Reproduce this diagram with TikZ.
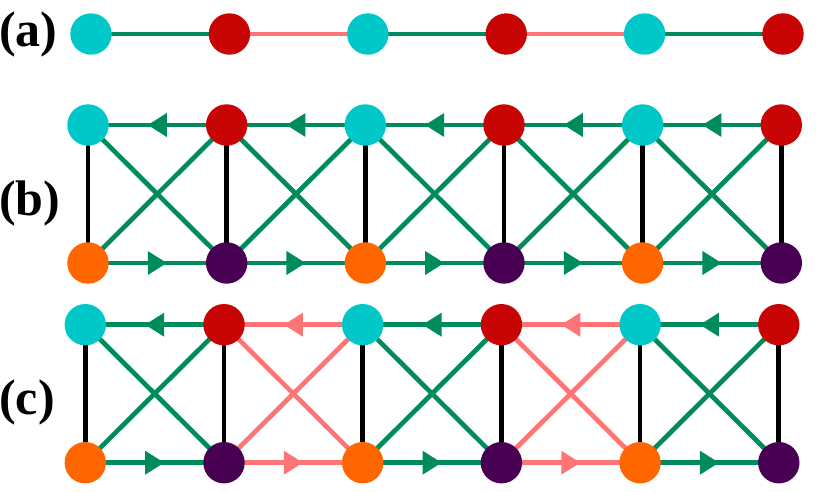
\documentclass[tikz,border=0pt]{standalone}
\usepackage{fontspec}
\setmainfont{Liberation Serif}
\usetikzlibrary{decorations.markings}
\definecolor{ccyan}{RGB}{0,200,200}
\definecolor{cred}{RGB}{200,4,4}
\definecolor{corange}{RGB}{255,102,0}
\definecolor{cpurple}{RGB}{72,0,82}
\definecolor{cgreen}{RGB}{0,139,92}
\definecolor{cpink}{RGB}{255,117,117}
\pgfdeclarelayer{bg}
\pgfsetlayers{bg,main}
\tikzset{
  site/.style={circle,minimum size=41.4pt,inner sep=0pt,draw=none},
  cy/.style={site,fill=ccyan},
  rd/.style={site,fill=cred},
  og/.style={site,fill=corange},
  pu/.style={site,fill=cpurple},
  bond/.style={line width=4.7pt},
  gb/.style={bond,draw=cgreen},
  pb/.style={bond,draw=cpink},
  kb/.style={bond,draw=black},
  arr/.style={postaction={decorate},decoration={markings,
     mark=at position 0.5 with {\fill[#1] (9.5pt,0pt) -- (-9.5pt,12pt) -- (-9.5pt,-12pt) -- cycle;}}},
  garr/.style={gb,arr=cgreen},
  parr/.style={pb,arr=cpink},
  lab/.style={anchor=base west,inner sep=0pt,font=\fontsize{50}{50}\selectfont\bfseries}
}
\begin{document}
\begin{tikzpicture}[x=1pt,y=-1pt]
\useasboundingbox (0,0) rectangle (825,492);
% labels
\node[lab] (la) at (-1,47) {(a)};
\node[lab] (lb) at (-1,215) {(b)};
\node[lab] (lc) at (-1,414) {(c)};
% row (a)
\foreach \i/\s in {0/cy,1/rd,2/cy,3/rd,4/cy,5/rd}
  \node[\s] (a\i) at (91+138.4*\i,34) {};
% rows (b) and (c)
\foreach \i/\t/\b in {0/cy/og,1/rd/pu,2/cy/og,3/rd/pu,4/cy/og,5/rd/pu}{
  \node[\t] (bt\i) at (88+138.66*\i,125) {};
  \node[\b] (bb\i) at (88+138.66*\i,263) {};
  \node[\t] (ct\i) at (85.3+138.7*\i,324.7) {};
  \node[\b] (cb\i) at (85.3+138.7*\i,462.7) {};
}
\begin{pgfonlayer}{bg}
% row (a)
\draw[gb] (a0.center) -- (a1.center);
\draw[pb] (a1.center) -- (a2.center);
\draw[gb] (a2.center) -- (a3.center);
\draw[pb] (a3.center) -- (a4.center);
\draw[gb] (a4.center) -- (a5.center);
% row (b)
\foreach \i/\j in {0/1,1/2,2/3,3/4,4/5}{
  \draw[gb] (bt\i.center) -- (bb\j.center);
  \draw[gb] (bb\i.center) -- (bt\j.center);
  \draw[garr] (bt\j.center) -- (bt\i.center);
  \draw[garr] (bb\i.center) -- (bb\j.center);
}
\foreach \i in {0,...,5}
  \draw[kb] (bt\i.center) -- (bb\i.center);
% row (c)
\foreach \i/\j/\st/\as in {0/1/gb/garr,1/2/pb/parr,2/3/gb/garr,3/4/pb/parr,4/5/gb/garr}{
  \draw[\st] (ct\i.center) -- (cb\j.center);
  \draw[\st] (cb\i.center) -- (ct\j.center);
  \draw[\as] (ct\j.center) -- (ct\i.center);
  \draw[\as] (cb\i.center) -- (cb\j.center);
}
\foreach \i in {0,...,5}
  \draw[kb] (ct\i.center) -- (cb\i.center);
\end{pgfonlayer}
\end{tikzpicture}
\end{document}
